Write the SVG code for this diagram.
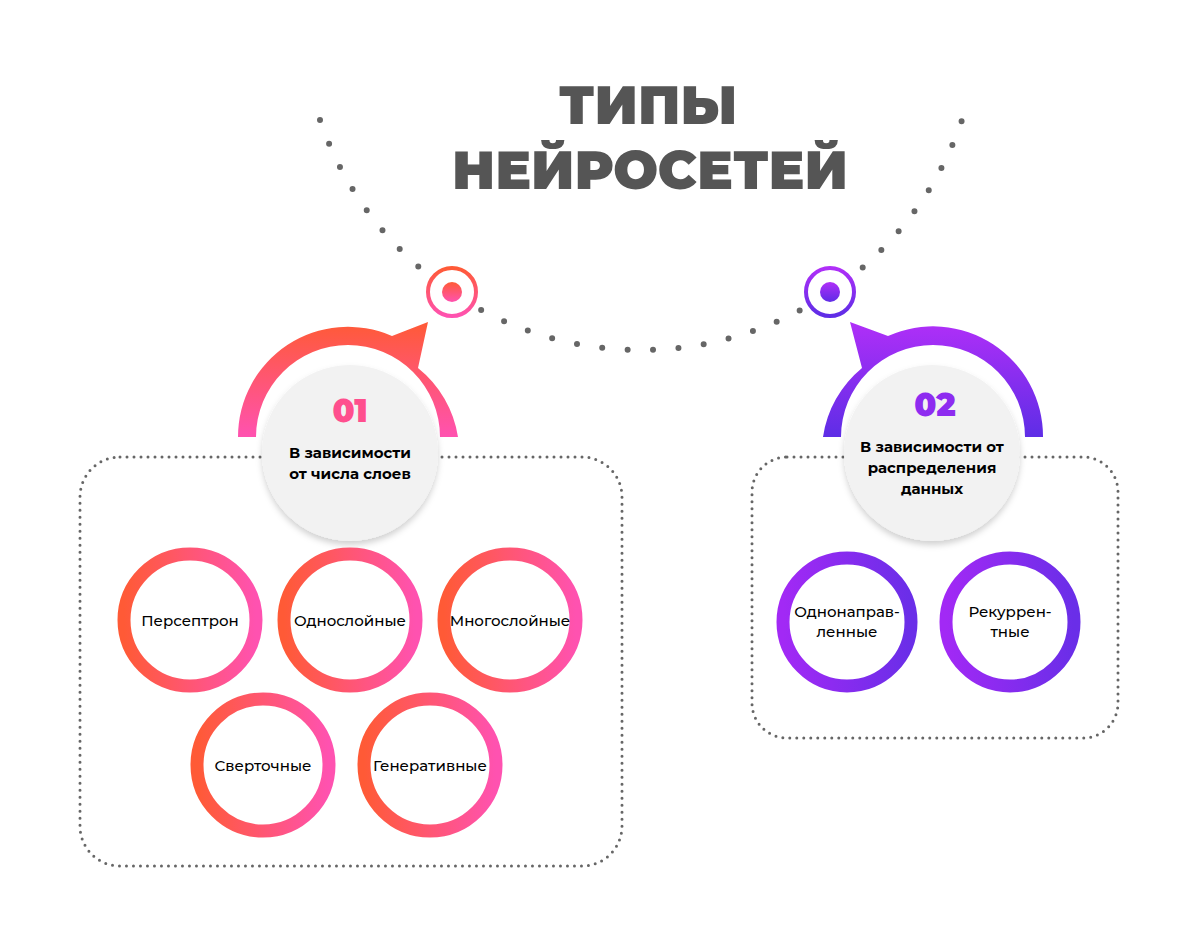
<svg xmlns="http://www.w3.org/2000/svg" width="1200" height="946" viewBox="0 0 1200 946">
<defs>
<linearGradient id="gr" x1="0" y1="0" x2="1" y2="0"><stop offset="0" stop-color="#ff5a36"/><stop offset="1" stop-color="#ff52b0"/></linearGradient>
<linearGradient id="grv" x1="0" y1="0" x2="0" y2="1"><stop offset="0" stop-color="#ff5a36"/><stop offset="1" stop-color="#ff52b0"/></linearGradient>
<linearGradient id="gp" x1="0" y1="0" x2="1" y2="0"><stop offset="0" stop-color="#a229f5"/><stop offset="1" stop-color="#6a2ee8"/></linearGradient>
<linearGradient id="gpv" x1="0" y1="0" x2="0" y2="1"><stop offset="0" stop-color="#b02ff8"/><stop offset="1" stop-color="#5e2de6"/></linearGradient>
<filter id="sh" x="-20%" y="-20%" width="140%" height="140%"><feDropShadow dx="0" dy="4" stdDeviation="3" flood-color="#000" flood-opacity="0.18"/></filter>
<style>
.t{font-family:"Montserrat","Inter","Liberation Sans",sans-serif;fill:#000;text-anchor:middle}
.n{font-size:15px;font-weight:500}
.h{font-size:15px;font-weight:700}
.box{fill:none;stroke:#666;stroke-width:3;stroke-dasharray:0 7;stroke-linecap:round}
.ring{fill:#fff;stroke-width:13}
</style>
</defs>
<rect width="1200" height="946" fill="#fff"/>
<text x="648" y="124" font-family="Montserrat,Inter,'Liberation Sans',sans-serif" font-weight="900" font-size="53" fill="#555" text-anchor="middle">ТИПЫ</text>
<text x="650" y="189" font-family="Montserrat,Inter,'Liberation Sans',sans-serif" font-weight="900" font-size="53" fill="#555" text-anchor="middle">НЕЙРОСЕТЕЙ</text>
<g id="connectors">
<path d="M320 120 A339 339 0 0 0 962 120" fill="none" stroke="#666" stroke-width="6" stroke-linecap="round" stroke-dasharray="0 25.5"/>
<rect class="box" x="80" y="457" width="542" height="409" rx="40"/>
<rect class="box" x="752" y="457" width="366" height="281" rx="35"/>
</g>
<g id="marker1"><circle cx="452" cy="292" r="24" fill="#fff" stroke="url(#grv)" stroke-width="4"/><circle cx="452" cy="292" r="10" fill="url(#grv)"/></g>
<g id="marker2"><circle cx="830" cy="292" r="24" fill="#fff" stroke="url(#gpv)" stroke-width="4"/><circle cx="830" cy="292" r="10" fill="url(#gpv)"/></g>
<g id="head1">
<path d="M238 437 A110 110 0 0 1 392 336 L428 322 L418 368 A110 110 0 0 1 458 437 L440 437 A92 92 0 0 0 256 437 Z" fill="url(#grv)"/>
<circle cx="350" cy="453" r="88" fill="#f2f2f2" filter="url(#sh)"/>
<text x="350" y="422" font-family="Montserrat,Inter,'Liberation Sans',sans-serif" font-weight="900" font-size="32" fill="#ff4f8e" text-anchor="middle">01</text>
<text class="t h" x="350" y="458">В зависимости</text>
<text class="t h" x="350" y="479">от числа слоев</text>
</g>
<g id="head2">
<path d="M1043 437 A110 110 0 0 0 888 336 L850 322 L862 368 A110 110 0 0 0 823 437 L841 437 A92 92 0 0 1 1025 437 Z" fill="url(#gpv)"/>
<circle cx="932" cy="453" r="88" fill="#f2f2f2" filter="url(#sh)"/>
<text x="935" y="416" font-family="Montserrat,Inter,'Liberation Sans',sans-serif" font-weight="900" font-size="32" fill="#8e2cf0" text-anchor="middle">02</text>
<text class="t h" x="932" y="452">В зависимости от</text>
<text class="t h" x="932" y="473">распределения</text>
<text class="t h" x="932" y="494">данных</text>
</g>
<g id="n1"><circle class="ring" cx="190" cy="620" r="66" stroke="url(#gr)"/><text class="t n" x="190" y="626">Персептрон</text></g>
<g id="n2"><circle class="ring" cx="350" cy="620" r="66" stroke="url(#gr)"/><text class="t n" x="350" y="626">Однослойные</text></g>
<g id="n3"><circle class="ring" cx="510" cy="620" r="66" stroke="url(#gr)"/><text class="t n" x="510" y="626">Многослойные</text></g>
<g id="n4"><circle class="ring" cx="263" cy="765" r="66" stroke="url(#gr)"/><text class="t n" x="263" y="771">Сверточные</text></g>
<g id="n5"><circle class="ring" cx="430" cy="765" r="66" stroke="url(#gr)"/><text class="t n" x="430" y="771">Генеративные</text></g>
<g id="n6"><circle class="ring" cx="847" cy="622" r="64" stroke="url(#gp)"/><text class="t n" x="847" y="617">Однонаправ-</text><text class="t n" x="847" y="637">ленные</text></g>
<g id="n7"><circle class="ring" cx="1010" cy="622" r="64" stroke="url(#gp)"/><text class="t n" x="1010" y="617">Рекуррен-</text><text class="t n" x="1010" y="637">тные</text></g>
</svg>
